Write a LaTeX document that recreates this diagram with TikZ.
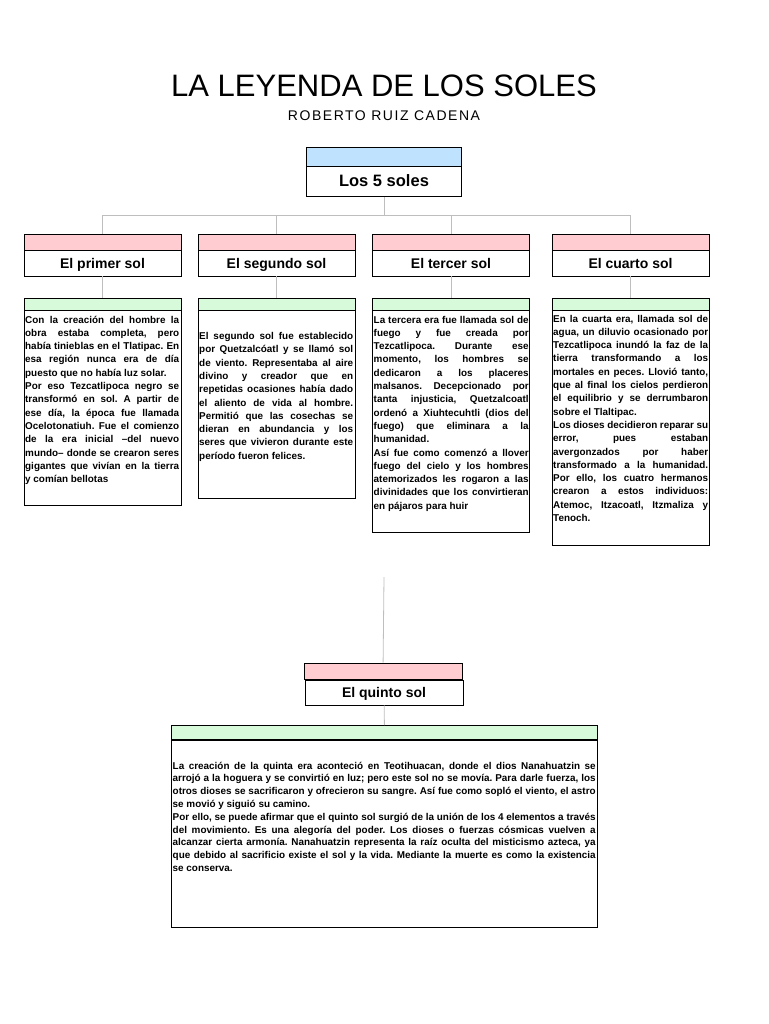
\documentclass[tikz,border=0pt]{standalone}
\usepackage{fontspec}
\setmainfont{Liberation Sans}
\newfontfamily\spacedfont[LetterSpace=11]{Liberation Sans}
\usetikzlibrary{positioning}
\frenchspacing

\definecolor{headblue}{RGB}{191,227,255}
\definecolor{headpink}{RGB}{255,204,210}
\definecolor{headgreen}{RGB}{214,250,218}
\definecolor{linegray}{RGB}{190,190,190}

\tikzset{
    colorhead/.style={draw=black, line width=0.8pt, inner sep=0pt},
    solbox/.style={draw=black, line width=0.8pt, fill=white, inner sep=0pt,
        text height=13pt, text depth=3pt,
        minimum height=26pt, font=\bfseries\fontsize{14}{16}\selectfont},
    textbox/.style={draw=black, line width=0.8pt, inner sep=0pt},
    bodytext/.style={inner sep=0pt, align=justify,
        font=\bfseries\fontsize{9.9}{13.3}\selectfont},
    link/.style={draw=linegray, line width=0.8pt}
}

\begin{document}
\begin{tikzpicture}[x=1pt, y=-1pt]
    \useasboundingbox (0,0) rectangle (768,1024);

    % Title
    \node[anchor=base, inner sep=0pt, font=\fontsize{31}{36}\selectfont] (title) at (384,97) {LA LEYENDA DE LOS SOLES};
    \node[anchor=base, inner sep=0pt, font=\spacedfont\fontsize{14}{16}\selectfont] (author) at (384,121) {ROBERTO RUIZ CADENA};

    % Root
    \node[colorhead, fill=headblue, minimum width=155pt, minimum height=19pt] (soles-head) at (384,157) {};
    \node[solbox, minimum width=155pt, minimum height=30pt, text height=14pt, text depth=3pt,
        font=\bfseries\fontsize{16.5}{18}\selectfont] (soles-label) at (384,181.5) {Los 5 soles};
    \coordinate (bus) at (384,215);
    \draw[link] (soles-label.south) -- (bus);

    % The four suns
    \foreach \n/\x/\t/\b in {primer/102.5/El primer sol/505, segundo/276.5/El segundo sol/498,
                             tercer/451/El tercer sol/532, cuarto/630.5/El cuarto sol/545} {
        \node[colorhead, fill=headpink, minimum width=157pt, minimum height=16pt] (\n-head) at (\x,242) {};
        \node[solbox, minimum width=157pt] (\n-label) at (\x,263) {\t};
        \node[colorhead, fill=headgreen, minimum width=157pt, minimum height=12pt] (\n-green) at (\x,304) {};
        \node[textbox, minimum width=157pt, minimum height={(\b-310)*1pt}] (\n-box) at (\x,{(310+\b)/2}) {};
        \draw[link] (\n-head.north) -- (\n-head.north |- bus);
        \draw[link] (\n-label) -- (\n-green);
    }
    \draw[link] (primer-head.north |- bus) -- (cuarto-head.north |- bus);

    \node[bodytext, text width=154pt, anchor=base west] (primer-text) at (25,323) {%
        Con la creación del hombre la\linebreak
        obra estaba completa, pero\linebreak
        había tinieblas en el Tlatipac. En\linebreak
        esa región nunca era de día\linebreak
        puesto que no había luz solar.\\
        Por eso Tezcatlipoca negro se\linebreak
        transformó en sol. A partir de\linebreak
        ese día, la época fue llamada\linebreak
        Ocelotonatiuh. Fue el comienzo\linebreak
        de la era inicial –del nuevo\linebreak
        mundo– donde se crearon seres\linebreak
        gigantes que vivían en la tierra\linebreak
        y comían bellotas};

    \node[bodytext, text width=154pt, anchor=base west] (segundo-text) at (199,339.5) {%
        El segundo sol fue establecido\linebreak
        por Quetzalcóatl y se llamó sol\linebreak
        de viento. Representaba al aire\linebreak
        divino y creador que en\linebreak
        repetidas ocasiones había dado\linebreak
        el aliento de vida al hombre.\linebreak
        Permitió que las cosechas se\linebreak
        dieran en abundancia y los\linebreak
        seres que vivieron durante este\linebreak
        período fueron felices.};

    \node[bodytext, text width=155pt, anchor=base west] (tercer-text) at (373.5,323) {%
        La tercera era fue llamada sol de\linebreak
        fuego y fue creada por\linebreak
        Tezcatlipoca. Durante ese\linebreak
        momento, los hombres se\linebreak
        dedicaron a los placeres\linebreak
        malsanos. Decepcionado por\linebreak
        tanta injusticia, Quetzalcoatl\linebreak
        ordenó a Xiuhtecuhtli (dios del\linebreak
        fuego) que eliminara a la\linebreak
        humanidad.\\
        Así fue como comenzó a llover\linebreak
        fuego del cielo y los hombres\linebreak
        atemorizados les rogaron a las\linebreak
        divinidades que los convirtieran\linebreak
        en pájaros para huir};

    \node[bodytext, text width=155pt, anchor=base west] (cuarto-text) at (553,322) {%
        En la cuarta era, llamada sol de\linebreak
        agua, un diluvio ocasionado por\linebreak
        Tezcatlipoca inundó la faz de la\linebreak
        tierra transformando a los\linebreak
        mortales en peces. Llovió tanto,\linebreak
        que al final los cielos perdieron\linebreak
        el equilibrio y se derrumbaron\linebreak
        sobre el Tlaltipac.\\
        Los dioses decidieron reparar su\linebreak
        error, pues estaban\linebreak
        avergonzados por haber\linebreak
        transformado a la humanidad.\linebreak
        Por ello, los cuatro hermanos\linebreak
        crearon a estos individuos:\linebreak
        Atemoc, Itzacoatl, Itzmaliza y\linebreak
        Tenoch.};

    % The fifth sun
    \coordinate (stem) at (384,577);
    \node[colorhead, fill=headpink, minimum width=158pt, minimum height=16pt] (quinto-head) at (383,671) {};
    \node[solbox, minimum width=158pt, minimum height=25pt] (quinto-label) at (384,692.5) {El quinto sol};
    \node[colorhead, fill=headgreen, minimum width=426pt, minimum height=14pt] (quinto-green) at (384.5,732.5) {};
    \node[textbox, minimum width=426pt, minimum height=187pt] (quinto-box) at (384.5,833.5) {};
    \draw[link] (stem) -- (quinto-head);
    \draw[link] (quinto-label) -- (quinto-green);

    \node[bodytext, text width=423pt, anchor=base west, font=\bfseries\fontsize{9.9}{12.8}\selectfont] (quinto-text) at (172.5,769) {%
        La creación de la quinta era aconteció en Teotihuacan, donde el dios Nanahuatzin se\linebreak
        arrojó a la hoguera y se convirtió en luz; pero este sol no se movía. Para darle fuerza, los\linebreak
        otros dioses se sacrificaron y ofrecieron su sangre. Así fue como sopló el viento, el astro\linebreak
        se movió y siguió su camino.\\
        Por ello, se puede afirmar que el quinto sol surgió de la unión de los 4 elementos a través\linebreak
        del movimiento. Es una alegoría del poder. Los dioses o fuerzas cósmicas vuelven a\linebreak
        alcanzar cierta armonía. Nanahuatzin representa la raíz oculta del misticismo azteca, ya\linebreak
        que debido al sacrificio existe el sol y la vida. Mediante la muerte es como la existencia\linebreak
        se conserva.};
\end{tikzpicture}
\end{document}
